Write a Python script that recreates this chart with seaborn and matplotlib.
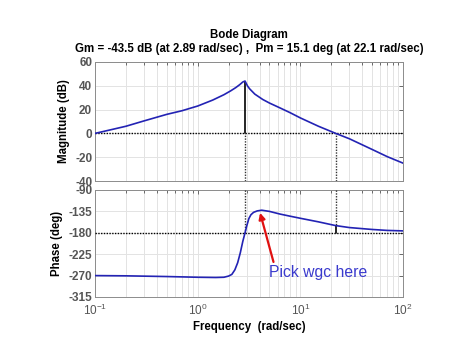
import numpy as np
import pandas as pd
import matplotlib
matplotlib.use("Agg")
import matplotlib.pyplot as plt
from matplotlib.ticker import LogLocator, NullFormatter, FixedLocator
import seaborn as sns

# ---- data ----
mag_freq = [0.1, 0.15, 0.2, 0.3, 0.5, 0.7, 1.0, 1.4, 1.8, 2.1, 2.35, 2.57, 2.75, 2.89,
            3.05, 3.2, 3.6, 4.3, 5.0, 6.3, 7.9, 10, 15, 22.1, 30, 50, 70, 100]
mag_db = [0, 3.5, 6, 10.5, 16, 19, 23, 28, 32.5, 35.8, 38.5, 41, 43.2, 44,
          40, 37.5, 33, 28.5, 25.5, 21.5, 17.5, 13, 6, 0, -4.5, -13.5, -19.5, -25]

ph_freq = [0.1, 0.2, 0.5, 1.0, 1.5, 1.8, 2.0, 2.15, 2.3, 2.45, 2.6, 2.75, 2.89,
           3.0, 3.15, 3.3, 3.5, 3.8, 4.2, 5.0, 6.3, 7.9, 10, 15, 22.1, 30, 50, 70, 100]
ph_deg = [-270, -270.5, -272, -273.5, -274, -273.5, -271, -267.5, -258, -243, -222, -198, -180,
          -166, -150, -142, -137, -134, -132.5, -135, -140.5, -145, -149.5, -157, -164.9,
          -169, -173, -175, -176]

gm_freq, gm_db = 2.89, 43.5
pm_freq, pm_deg = 22.1, 15.1

mag_ticks = [-40, -20, 0, 20, 40, 60]
ph_ticks = [-315, -270, -225, -180, -135, -90]
x_ticks = [0.1, 1, 10, 100]
x_ticklabels = [r"$10^{-1}$", r"$10^{0}$", r"$10^{1}$", r"$10^{2}$"]

title = "Bode Diagram\nGm = -43.5 dB (at 2.89 rad/sec) ,  Pm = 15.1 deg (at 22.1 rad/sec)"
note = "Pick wgc here"

# ---- style ----
sns.set_theme(style="white")
plt.rcParams["font.family"] = ["Liberation Sans", "DejaVu Sans"]
plt.rcParams["mathtext.fontset"] = "custom"
plt.rcParams["mathtext.rm"] = "Liberation Sans"
plt.rcParams["mathtext.it"] = "Liberation Sans"
plt.rcParams["mathtext.bf"] = "Liberation Sans:bold"

line_c = "#2323b4"
tick_c = "#555555"
spine_c = "#8c8c8c"
grid_c = "#e3e3e3"

fig = plt.figure(figsize=(4.74, 3.55), dpi=100)
ax1 = fig.add_axes([0.2004, 0.4901, 0.650, 0.3353])
ax2 = fig.add_axes([0.2004, 0.1634, 0.650, 0.3014])

df_mag = pd.DataFrame({"f": mag_freq, "m": mag_db})
df_ph = pd.DataFrame({"f": ph_freq, "p": ph_deg})

sns.lineplot(data=df_mag, x="f", y="m", ax=ax1, color=line_c, lw=1.2, zorder=5)
sns.lineplot(data=df_ph, x="f", y="p", ax=ax2, color=line_c, lw=1.2, zorder=5)

dot = (0, (1, 1))
# magnitude margin lines
ax1.axhline(0, color="black", lw=1.0, ls=dot, zorder=4)
ax1.plot([gm_freq, gm_freq], [0, gm_db], color="black", lw=1.2, zorder=4)
ax1.plot([gm_freq, gm_freq], [mag_ticks[0], 0], color="#333333", lw=1.0, ls=dot, zorder=4)
ax1.plot([pm_freq, pm_freq], [mag_ticks[0], 0], color="#333333", lw=1.0, ls=dot, zorder=4)
# phase margin lines
ax2.axhline(-180, color="black", lw=1.0, ls=dot, zorder=4)
ax2.plot([gm_freq, gm_freq], [ph_ticks[-1], -180], color="#333333", lw=1.0, ls=dot, zorder=4)
ax2.plot([pm_freq, pm_freq], [ph_ticks[-1], -180 + pm_deg], color="#333333", lw=1.0, ls=dot, zorder=4)
ax2.plot([pm_freq, pm_freq], [-180 + pm_deg, -180], color="black", lw=1.2, zorder=4)

for ax, ticks in ((ax1, mag_ticks), (ax2, ph_ticks)):
    ax.set_xscale("log")
    ax.set_xlim(0.1, 100)
    ax.set_ylim(ticks[0], ticks[-1])
    ax.yaxis.set_major_locator(FixedLocator(ticks))
    ax.xaxis.set_major_locator(FixedLocator(x_ticks))
    ax.xaxis.set_minor_locator(LogLocator(base=10, subs=np.arange(2, 10), numticks=20))
    ax.xaxis.set_minor_formatter(NullFormatter())
    ax.grid(True, which="major", color=grid_c, lw=0.7)
    ax.grid(True, which="minor", axis="x", color=grid_c, lw=0.7)
    ax.tick_params(which="both", direction="in", top=True, right=True,
                   colors=tick_c, labelsize=8.5, length=3, width=0.6, pad=2)
    ax.tick_params(which="minor", length=2)
    for s in ax.spines.values():
        s.set_color(spine_c)
        s.set_linewidth(0.7)
    ax.set_axisbelow(True)

ax1.set_xlabel("")
ax1.tick_params(labelbottom=False)
ax1.set_yticklabels([str(t) for t in mag_ticks])
ax2.set_yticklabels([str(t) for t in ph_ticks])
ax2.set_xticklabels(x_ticklabels)
ax2.tick_params(axis="x", pad=4)
for lab in ax1.get_yticklabels() + ax2.get_yticklabels() + ax2.get_xticklabels():
    lab.set_color(tick_c)
    lab.set_fontweight("bold")

ax1.set_ylabel("Magnitude (dB)", fontsize=8.3, fontweight="bold", color="black", labelpad=4)
ax2.set_ylabel("Phase (deg)", fontsize=8.3, fontweight="bold", color="black", labelpad=4)
ax2.set_xlabel("Frequency  (rad/sec)", fontsize=8.3, fontweight="bold", color="black", labelpad=2)
ax1.set_title(title, fontsize=8.3, fontweight="bold", color="black", pad=7, linespacing=1.2)

ax2.annotate(note, xy=(4.05, -138), xytext=(5.0, -264),
             fontsize=11.3, color="#3a3acd", va="center", ha="left",
             arrowprops=dict(arrowstyle="-|>", color="#e01010", lw=1.6,
                             shrinkA=0, shrinkB=0, mutation_scale=9,
                             relpos=(0.05, 1.0)),
             zorder=6)

fig.savefig("out.png", dpi=100)
